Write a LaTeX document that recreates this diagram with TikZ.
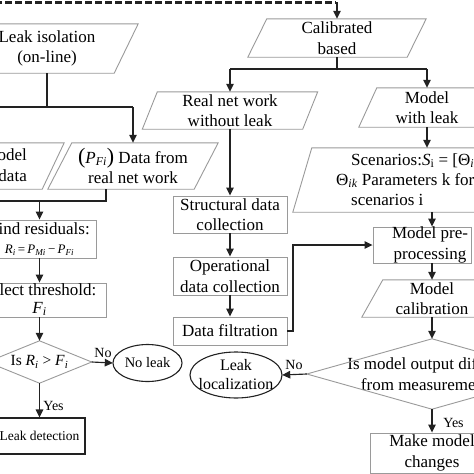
\documentclass[tikz,border=0pt]{standalone}
\usepackage{fontspec}
\setmainfont{Liberation Serif}
\usetikzlibrary{arrows.meta,shapes.geometric}
\definecolor{bord}{HTML}{9A9A9A}
\definecolor{ink}{HTML}{222222}
\newcommand\fsmain{\fontsize{17}{20.5}\selectfont}
\newcommand\fslbl{\fontsize{14}{16}\selectfont}
\newcommand\fssmall{\fontsize{13.5}{16}\selectfont}
\newcommand\ita[1]{\textit{#1}}
\newcommand\subi[1]{\textsubscript{\textit{#1}}}
\newcommand\bigpar[1]{{\fontsize{22}{22}\selectfont #1}}
\newcommand\drawpara[2]{\draw[pbord] ([xshift=#2]#1.north west) -- ([xshift=#2]#1.north east) -- ([xshift=-#2]#1.south east) -- ([xshift=-#2]#1.south west) -- cycle;}
\tikzset{
  ghost/.style={inner sep=0pt, align=center, font=\fsmain},
  box/.style={ghost, draw=bord, line width=0.9pt},
  pbord/.style={draw=bord, line width=0.9pt},
  dark/.style={draw=ink, line width=1.1pt},
  conn/.style={draw=ink, line width=1.15pt},
  arr/.style={conn, -{Triangle[length=8pt,width=7.5pt]}},
  lbl/.style={inner sep=0pt, font=\fslbl},
  txt/.style={inner sep=0pt, font=\fsmain}
}
\begin{document}
\begin{tikzpicture}[x=1pt,y=-1pt]
\useasboundingbox (0,0) rectangle (474,474);
\clip (0,0) rectangle (474,474);
\fill[white] (0,0) rectangle (474,474);

% top dashed line
\draw[draw=ink, line width=3pt, dash pattern=on 7pt off 3pt] (-5,2) -- (336,2);
\coordinate (dtop) at (337,2);

% right part
\node[ghost, minimum width=159pt, minimum height=38pt] (cal) at (337,38) {Calibrated\\based};
\drawpara{cal}{9.5pt}
\node[ghost, minimum width=160pt, minimum height=37pt] (real) at (230,110.5) {Real net work\\without leak};
\drawpara{real}{7.5pt}
\node[ghost, minimum width=118pt, minimum height=39pt] (mwl) at (427,107.5) {Model\\with leak};
\drawpara{mwl}{9pt}
\node[ghost, minimum width=257pt, minimum height=64pt] (scen) at (431,180) {};
\drawpara{scen}{9.5pt}
\node[txt, anchor=base west] (sc1) at (351,165) {Scenarios:\ita{S}\textsubscript{i} = [Θ\subi{i1} … Θ\subi{ik}]};
\node[txt, anchor=base west] (sc2) at (336,185) {Θ\subi{ik} Parameters k for};
\node[txt, anchor=base west] (sc3) at (351,205) {scenarios i};
\node[ghost, draw=bord, line width=0.9pt, minimum width=98pt, minimum height=36pt] (pre) at (422,245) {};
\node[ghost] (pretext) at (430,245) {Model pre-\\processing};
\node[ghost, minimum width=119pt, minimum height=37pt] (mcal) at (432,298.5) {Model\\calibration};
\drawpara{mcal}{10.5pt}
\node[ghost, minimum width=250pt, minimum height=70pt] (d2) at (432,374) {Is model output different\\from measurements?};
\draw[pbord] (d2.north) -- (d2.east) -- (d2.south) -- (d2.west) -- cycle;
\node[box, minimum width=124pt, minimum height=40pt] (mmc) at (432,453) {Make model\\changes};
\node[ghost, minimum width=92pt, minimum height=46pt, font=\fontsize{16}{19}\selectfont] (loc) at (236,375) {Leak\\localization};
\draw[dark] (loc.center) ellipse [x radius=46pt, y radius=23pt];

% middle column
\node[box, minimum width=114pt, minimum height=37pt] (struc) at (230,214.5) {Structural data\\collection};
\node[box, minimum width=114pt, minimum height=38pt] (oper) at (230,276) {Operational\\data collection};
\node[box, minimum width=114pt, minimum height=28pt] (filt) at (230,331) {Data filtration};

% left column
\node[ghost, minimum width=158pt, minimum height=49pt] (iso) at (47,48.5) {Leak isolation\\(on-line)};
\drawpara{iso}{12pt}
\node[ghost, minimum width=140pt, minimum height=46pt] (mdl) at (-17,166) {};
\drawpara{mdl}{11pt}
\node[txt, anchor=east, align=right] (mdtext) at (27,165) {Model\\data};
\node[ghost, minimum width=146pt, minimum height=46pt] (dfr) at (133,166) {\bigpar{(}\ita{P}\subi{Fi}\bigpar{)} Data from\\real net work};
\drawpara{dfr}{12pt}
\node[box, minimum width=114pt, minimum height=38pt] (fres) at (39.5,239) {Find residuals:\\[-2pt]{\fontsize{13}{15}\selectfont\ita{R}\subi{i}\,=\,\ita{P}\subi{Mi}\,−\,\ita{P}\subi{Fi}}};
\node[box, minimum width=133pt, minimum height=34pt] (sel) at (39.5,300) {Select threshold:\\[-3pt]\ita{F}\subi{i}};
\node[ghost, minimum width=104pt, minimum height=42pt, font=\fontsize{15.5}{18}\selectfont] (d1) at (39.5,362) {Is \ita{R}\subi{i} > \ita{F}\subi{i}};
\draw[pbord] (d1.north) -- (d1.east) -- (d1.south) -- (d1.west) -- cycle;
\node[ghost, minimum width=69pt, minimum height=37pt, font=\fontsize{14.5}{17}\selectfont] (nl) at (147.5,363) {No leak};
\draw[dark] (nl.center) ellipse [x radius=34.5pt, y radius=18.5pt];
\node[ghost, dark, minimum width=91pt, minimum height=36pt, font=\fssmall] (det) at (39.5,436) {Leak detection};

% connectors
\draw[arr] (dtop) -- (cal.north);
\coordinate (j1) at (337,69);
\draw[conn] (cal.south) -- (j1);
\draw[conn] (real.north |- j1) -- (mwl.north |- j1);
\draw[arr] (real.north |- j1) -- (real.north);
\draw[arr] (mwl.north |- j1) -- (mwl.north);
\draw[arr] (real.south) -- (struc.north);
\draw[arr] (struc.south) -- (oper.north);
\draw[arr] (oper.south) -- (filt.north);
\coordinate (kk) at (293,245);
\draw[arr] (filt.east) -| (kk) -- (pre.west);
\draw[arr] (mwl.south) -- (mwl.south |- scen.north);
\draw[arr] (scen.south -| mcal.north) -- (pre.north -| mcal.north);
\draw[arr] (pre.south -| mcal.north) -- (mcal.north);
\draw[arr] (mcal.south) -- (d2.north);
\draw[arr] (d2.west) -- (loc.east);
\node[lbl] (no2) at (294,365) {No};
\draw[arr] (d2.south) -- (mmc.north);
\node[lbl] (yes2) at (453.5,423) {Yes};

\coordinate (jl) at (-10,107);
\draw[conn] (iso.south) -- (iso.south |- jl);
\draw[conn] (jl) -- (dfr.north |- jl);
\draw[arr] (dfr.north |- jl) -- (dfr.north);
\coordinate (jd) at (106,201);
\coordinate (jl2) at (-10,201);
\draw[conn] (dfr.south -| jd) -- (jd) -- (jl2);
\draw[arr] (fres.north |- jd) -- (fres.north);
\draw[arr] (fres.south) -- (sel.north);
\draw[arr] (sel.south) -- (d1.north);
\draw[arr] (d1.east) -- (nl.west);
\node[lbl] (no1) at (103,353) {No};
\draw[arr] (d1.south) -- (det.north);
\node[lbl] (yes1) at (53.5,406) {Yes};
\end{tikzpicture}
\end{document}
